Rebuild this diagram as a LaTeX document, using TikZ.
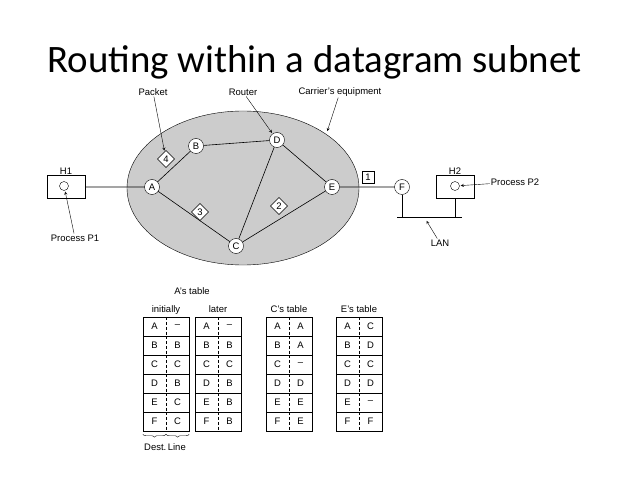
\documentclass[tikz,border=0pt]{standalone}
\usepackage{fontspec}
\setmainfont{Liberation Sans}
\newfontfamily\titlefont{Carlito}
\usetikzlibrary{arrows, positioning, shapes.geometric, decorations.pathreplacing}

\begin{document}
\begin{tikzpicture}[x=1bp,y=-1bp,font=\fontsize{9.5}{11}\selectfont,
        router/.style={circle,draw,fill=white,inner sep=0pt,minimum size=15bp},
        pkt/.style={draw,fill=white,inner sep=0pt,minimum size=12bp},
        host/.style={draw,minimum width=38bp,minimum height=23bp},
        lbl/.style={inner sep=1bp},
        head/.style={inner sep=1bp,anchor=base},
        ptr/.style={->,>=stealth,shorten >=1pt},
        cell/.style={draw,minimum width=46bp,minimum height=19bp,inner sep=0pt}]
    \useasboundingbox (0,0) rectangle (638,478);
    \node[anchor=west] (title) at (44,62) {\titlefont\fontsize{39}{42}\selectfont Routing within a datagram subnet};

    % carrier's subnet
    \node[ellipse,draw,fill=black!20,minimum width=232bp,minimum height=154bp] (net) at (243,188) {};
    \node[router] (A) at (152,187) {A};
    \node[router] (B) at (196,146) {B};
    \node[router] (D) at (277,140) {D};
    \node[router] (E) at (332,187) {E};
    \node[router] (C) at (236,246) {C};
    \node[router] (F) at (402,187) {F};

    \node[host] (H1) at (66,187) {};
    \node[circle,draw,minimum size=9bp,inner sep=0pt] (p1) at (64,186) {};
    \node[host] (H2) at (455,187) {};
    \node[circle,draw,minimum size=9bp,inner sep=0pt] (p2) at (455,186) {};
    \node[lbl] (h1lab) [above=0bp of H1] {H1};
    \node[lbl] (h2lab) [above=0bp of H2] {H2};

    \draw[semithick] (H1) -- (A) -- (B) -- (D) -- (E) -- (F)
        (A) -- (C) -- (D)  (C) -- (E);

    % LAN
    \coordinate (lanL) at (397,217);
    \coordinate (lanR) at (462,217);
    \draw[thick] (lanL) -- (lanR);
    \draw (F) -- (F |- lanL)  (H2.south) -- (H2.south |- lanL);

    % packets
    \node[pkt] (pk1) at (368,177) {1};
    \node[pkt,rotate=-45] (pk2) at (279,206) {\rotatebox{45}{2}};
    \node[pkt,rotate=-45] (pk3) at (200,212) {\rotatebox{45}{3}};
    \node[pkt,rotate=-45] (pk4) at (166,159) {\rotatebox{45}{4}};

    % labels and pointers
    \node[lbl] (packet) at (153,92) {Packet};
    \node[lbl] (router) at (243,92) {Router};
    \node[lbl] (carrier) at (340,92) {Carrier's equipment};
    \node[lbl] (proc1) at (75,238) {Process P1};
    \node[lbl] (proc2) at (515,182) {Process P2};
    \node[lbl] (lan) at (440,243) {LAN};
    \coordinate (edge) at (327,132);
    \coordinate (lanpt) at (426,220);
    \draw[ptr] (packet) -- (pk4);
    \draw[ptr] (router) -- (D);
    \draw[ptr] (carrier) -- (edge);
    \draw[ptr] (proc1) -- (p1);
    \draw[ptr] (proc2) -- (p2);
    \draw[ptr] (lan) -- (lanpt);

    % routing tables
    \node[head] (atab) at (192,294) {A's table};
    \node[head] (init) at (166,312) {initially};
    \node[head] (later) at (218,312) {later};
    \node[head] (ctab) at (289,312) {C's table};
    \node[head] (etab) at (359,312) {E's table};
    \foreach \x/\col in {166/{A/\textendash,B/B,C/C,D/B,E/C,F/C}, 218/{A/\textendash,B/B,C/C,D/B,E/B,F/B},
                         289/{A/A,B/A,C/\textendash,D/D,E/E,F/E}, 359/{A/C,B/D,C/C,D/D,E/\textendash,F/F}} {
        \foreach [count=\i] \d/\l in \col {
            \node[cell] (c\x\i) at (\x,317+19*\i-9.5) {};
            \draw[densely dashed] (c\x\i.north) -- (c\x\i.south);
            \node (d\x\i) at ([xshift=-11.5bp]c\x\i.center) {\d};
            \node (l\x\i) at ([xshift=11.5bp]c\x\i.center) {\l};
        }
    }
    \draw[decorate,decoration={brace,mirror,amplitude=3bp}] ([yshift=-3bp]c1666.south west) -- ([yshift=-3bp]c1666.south);
    \draw[decorate,decoration={brace,mirror,amplitude=3bp}] ([yshift=-3bp]c1666.south) -- ([yshift=-3bp]c1666.south east);
    \node[lbl] (destline) at (165,447) {Dest.\,Line};
\end{tikzpicture}
\end{document}
